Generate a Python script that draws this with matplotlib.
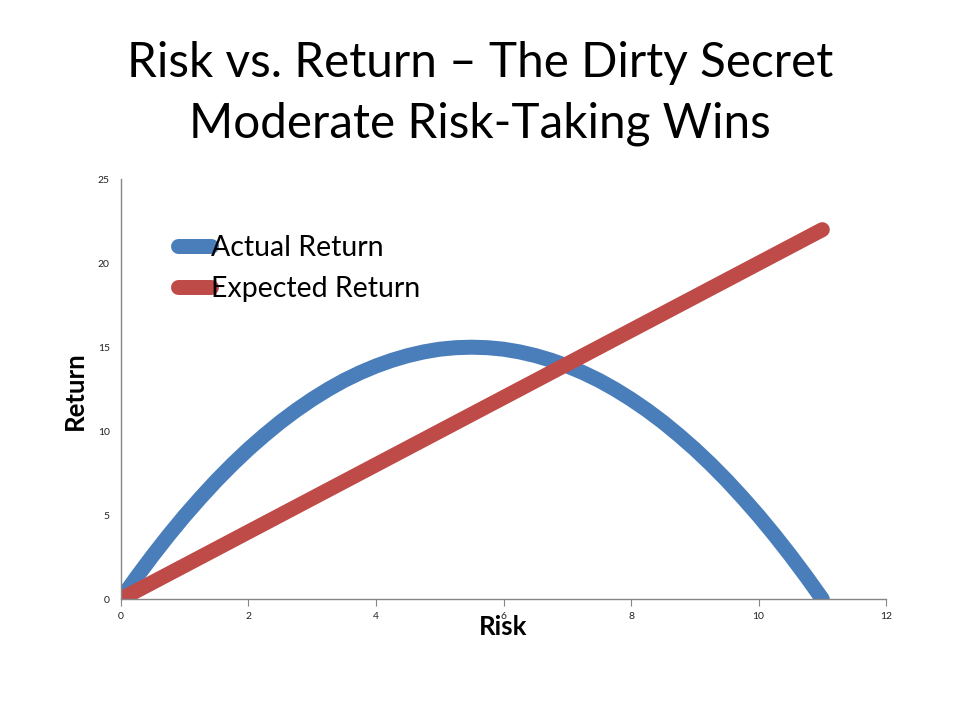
import matplotlib
matplotlib.use("Agg")
from matplotlib import pyplot as plt

# data
risk_actual = [0, 0.25, 0.5, 0.75, 1, 1.25, 1.5, 1.75, 2, 2.25, 2.5, 2.75,
               3, 3.25, 3.5, 3.75, 4, 4.25, 4.5, 4.75, 5, 5.25, 5.5,
               5.75, 6, 6.25, 6.5, 6.75, 7, 7.25, 7.5, 7.75, 8, 8.25,
               8.5, 8.75, 9, 9.25, 9.5, 9.75, 10, 10.25, 10.5, 10.75, 11]
actual_return = [0, 1.33, 2.6, 3.81, 4.96, 6.04, 7.07, 8.03, 8.93, 9.76, 10.54, 11.25,
                 11.9, 12.49, 13.02, 13.48, 13.88, 14.22, 14.5, 14.72, 14.88, 14.97, 15.0,
                 14.97, 14.88, 14.72, 14.5, 14.22, 13.88, 13.48, 13.02, 12.49, 11.9, 11.25,
                 10.54, 9.76, 8.93, 8.03, 7.07, 6.04, 4.96, 3.81, 2.6, 1.33, 0]
risk_expected = [0, 1, 2, 3, 4, 5, 6, 7, 8, 9, 10, 11]
expected_return = [0, 2, 4, 6, 8, 10, 12, 14, 16, 18, 20, 22]
x_ticks = [0, 2, 4, 6, 8, 10, 12]
y_ticks = [0, 5, 10, 15, 20, 25]

plt.rcParams["font.family"] = ["Lato", "DejaVu Sans"]

fig = plt.figure(figsize=(9.6, 7.2), dpi=100)
ax = fig.add_axes([0.126, 0.168, 0.797, 0.583])

ax.plot(risk_actual, actual_return, color="#4A7EBB", lw=10.8,
        solid_capstyle="round", solid_joinstyle="round", label="Actual Return")
ax.plot(risk_expected, expected_return, color="#BE4B48", lw=10.8,
        solid_capstyle="round", solid_joinstyle="round", label="Expected Return")

ax.set_xlim(0, 12)
ax.set_ylim(0, 25)
ax.set_xticks(x_ticks)
ax.set_yticks(y_ticks)
ax.tick_params(axis="x", direction="out", length=5, color="#868686",
               labelsize=7.5, labelcolor="#222222", pad=4)
ax.tick_params(axis="y", length=0, labelsize=7.5, labelcolor="#222222", pad=8)
for side in ["top", "right"]:
    ax.spines[side].set_visible(False)
for side in ["left", "bottom"]:
    ax.spines[side].set_color("#868686")
    ax.spines[side].set_linewidth(1)

leg = ax.legend(loc="upper left", bbox_to_anchor=(0.06, 0.895), frameon=False,
                fontsize=20.5, handlelength=1.15, handletextpad=0.0,
                labelspacing=0.55, borderaxespad=0)

fig.text(0.5, 0.913, "Risk vs. Return \u2013 The Dirty Secret",
         ha="center", va="center", fontsize=34.3)
fig.text(0.5, 0.828, "Moderate Risk-Taking Wins",
         ha="center", va="center", fontsize=34.3)
fig.text(0.078, 0.458, "Return", rotation=90, ha="center", va="center",
         fontsize=18.5, fontweight="bold")
fig.text(0.524, 0.129, "Risk", ha="center", va="center",
         fontsize=18.5, fontweight="bold")

fig.savefig("out.png", dpi=100)
